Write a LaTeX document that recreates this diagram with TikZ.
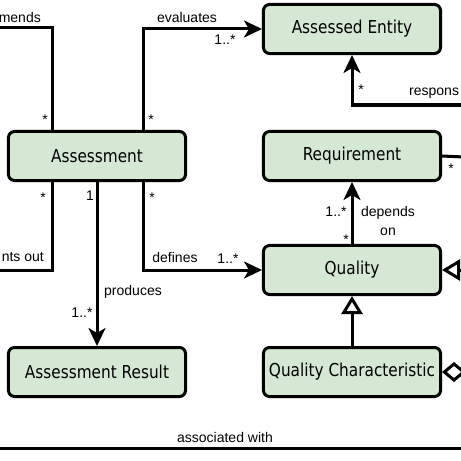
\documentclass[tikz,border=0pt]{standalone}
\usepackage{fontspec}
\setmainfont{Liberation Sans}
\newfontfamily\boxfont{DejaVu Sans}
\usetikzlibrary{arrows.meta}

\definecolor{boxgreen}{RGB}{213,232,212}

\def\ll{0.03514}
\newcommand\boxtxt[1]{\scalebox{0.86}[1]{#1}}

\begin{document}
\begin{tikzpicture}[y=-1cm,
  my box/.style={draw=black,line width=3pt,rounded corners=6pt,fill=boxgreen,
    minimum width=177pt,minimum height=49pt,inner sep=0pt,
    font=\boxfont\fontsize{17.8}{20}\selectfont},
  my label/.style={inner sep=0pt,font=\fontsize{14}{16}\selectfont},
  my line/.style={line width=3pt},
  my arrow/.style={my line,-{Stealth[length=18pt,width=17pt,inset=5pt]}},
  my gen/.style={my line,-{Triangle[open,length=18pt,width=21pt]}},
  my agg/.style={my line,{Diamond[open,length=24pt,width=20pt]}-}]
\useasboundingbox (0,0) rectangle (461*\ll,461*\ll);

\node[my box] (ae)  at (352*\ll, 29*\ll) {\boxtxt{Assessed Entity}};
\node[my box] (as)  at ( 97*\ll,156*\ll) {\boxtxt{Assessment}};
\node[my box] (req) at (352*\ll,156*\ll) {\boxtxt{Requirement}};
\node[my box] (q)   at (352*\ll,270*\ll) {\boxtxt{Quality}};
\node[my box] (ar)  at ( 97*\ll,372*\ll) {\boxtxt{Assessment Result}};
\node[my box] (qc)  at (352*\ll,372*\ll) {\boxtxt{Quality Characteristic}};

\coordinate (recL)  at ( -3*\ll, 28*\ll);
\coordinate (ptsL)  at ( -3*\ll,270*\ll);
\coordinate (respR) at (464*\ll,105*\ll);
\coordinate (reqR)  at (464*\ll,157*\ll);
\coordinate (genR)  at (464*\ll,270*\ll);
\coordinate (diaR)  at (464*\ll,372*\ll);
\coordinate (awL)   at ( -3*\ll,448*\ll);
\coordinate (awR)   at (464*\ll,448*\ll);

\draw[my line]  ([xshift=-44pt]as.north) |- (recL);
\draw[my arrow] ([xshift=46pt]as.north) |- (ae.west);
\draw[my line]  ([xshift=-44pt]as.south) |- (ptsL);
\draw[my arrow] (as.south) -- (ar.north);
\draw[my arrow] ([xshift=46pt]as.south) |- (q.west);
\draw[my arrow] (respR) -| (ae.south);
\draw[my line]  (req.east) -- (reqR);
\draw[my arrow] (q.north) -- (req.south);
\draw[my gen]   (genR) -- (q.east);
\draw[my gen]   (qc.north) -- (q.south);
\draw[my agg]   (qc.east) -- (diaR);
\draw[my line]  (awL) -- (awR);

\node[my label,anchor=east] (l1) at ( 41*\ll, 17*\ll) {mends};
\node[my label] (l2)  at ( 45*\ll,120*\ll) {*};
\node[my label] (l3)  at (187*\ll, 17*\ll) {evaluates};
\node[my label] (l4)  at (225*\ll, 40*\ll) {1..*};
\node[my label] (l5)  at (151*\ll,120*\ll) {*};
\node[my label] (l6)  at ( 43*\ll,198*\ll) {*};
\node[my label,anchor=east] (l7) at ( 44*\ll,257*\ll) {nts out};
\node[my label] (l8)  at ( 90*\ll,196*\ll) {1};
\node[my label] (l9)  at (133*\ll,292*\ll) {produces};
\node[my label] (l10) at ( 82*\ll,313*\ll) {1..*};
\node[my label] (l11) at (152*\ll,198*\ll) {*};
\node[my label] (l12) at (175*\ll,257*\ll) {defines};
\node[my label] (l13) at (228*\ll,259*\ll) {1..*};
\node[my label] (l14) at (361*\ll, 90*\ll) {*};
\node[my label,anchor=west] (l15) at (409*\ll, 93*\ll) {respons};
\node[my label] (l16) at (451*\ll,169*\ll) {*};
\node[my label] (l17) at (336*\ll,212*\ll) {1..*};
\node[my label] (l18) at (388*\ll,213*\ll) {depends};
\node[my label] (l19) at (388*\ll,232*\ll) {on};
\node[my label] (l20) at (346*\ll,240*\ll) {*};
\node[my label] (l21) at (225*\ll,437*\ll) {associated with};
\end{tikzpicture}
\end{document}
